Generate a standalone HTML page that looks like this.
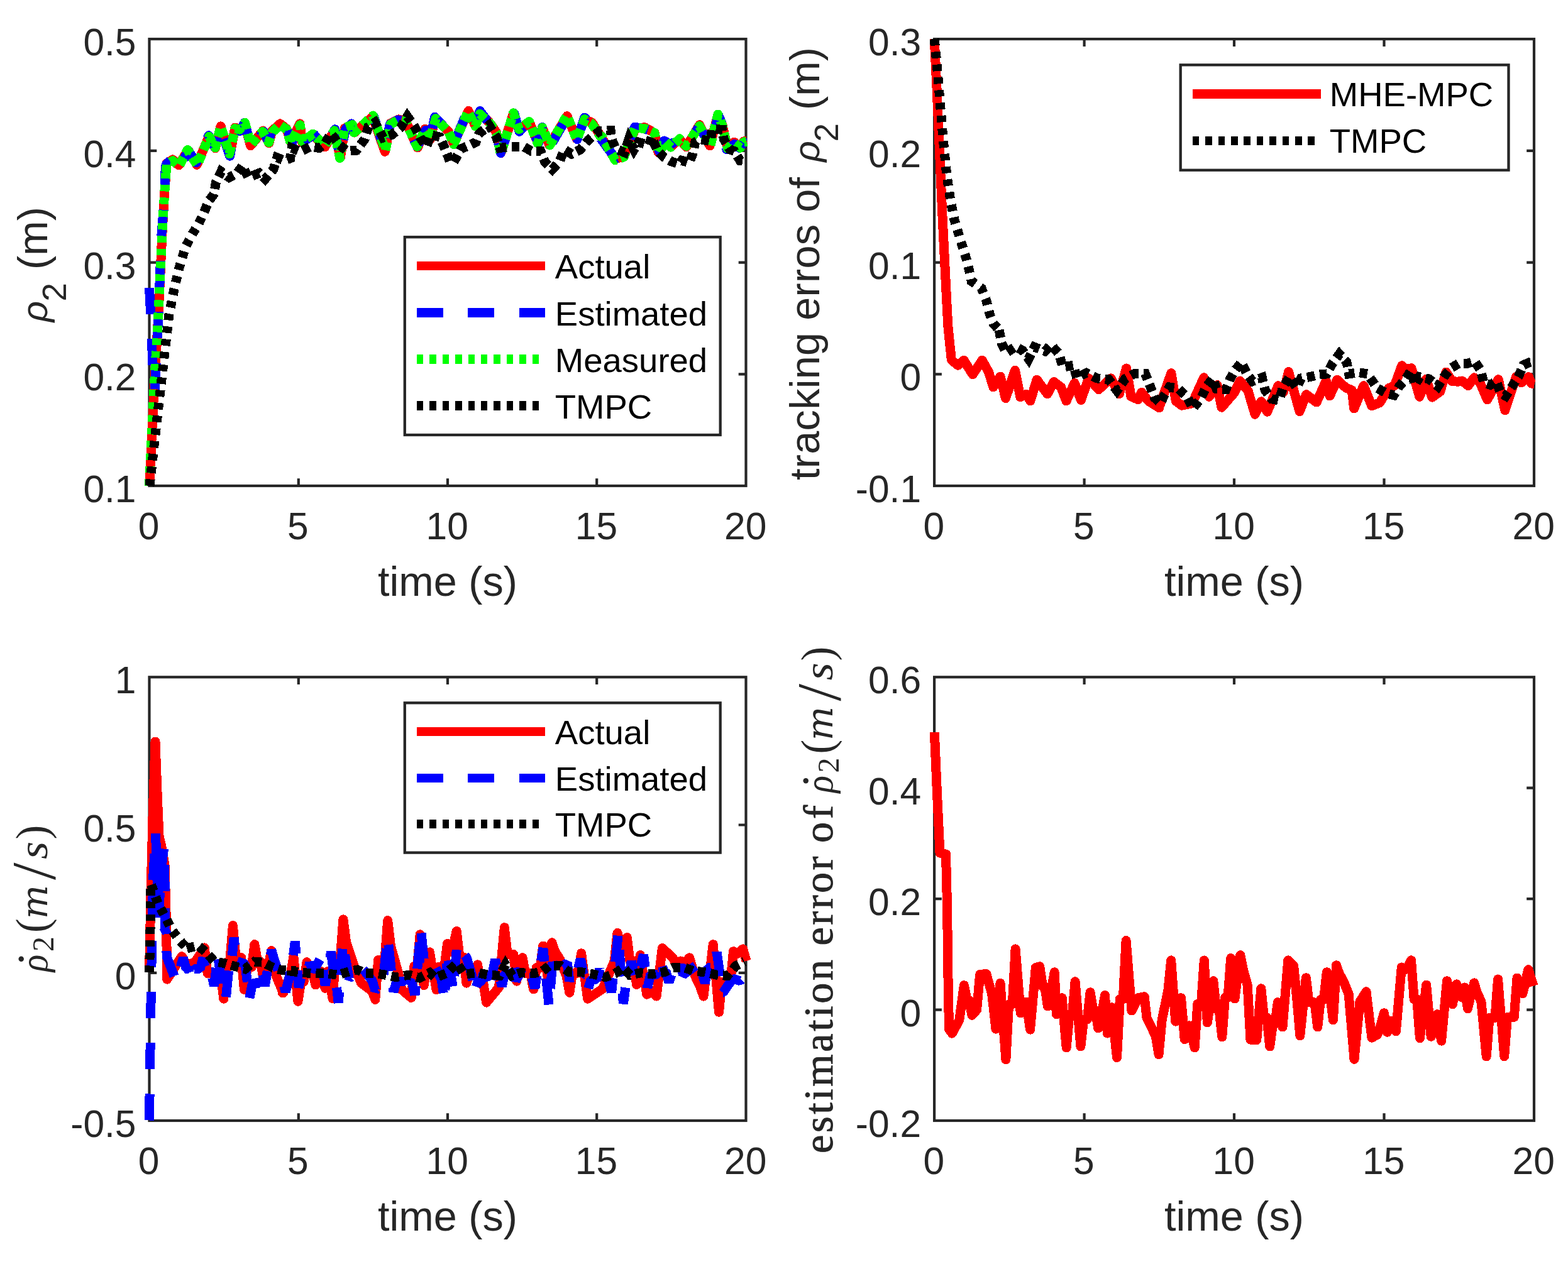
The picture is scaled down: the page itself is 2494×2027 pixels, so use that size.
<!DOCTYPE html>
<html lang="en"><head><meta charset="utf-8"><title>MHE-MPC vs TMPC: rho2 tracking and estimation</title>
<style>html,body{margin:0;padding:0;background:#fff}body{width:2494px;height:2027px;overflow:hidden}svg{display:block}</style>
</head><body>
<svg width="2494" height="2027" viewBox="0 0 2494 2027">
<rect width="2494" height="2027" fill="#fff"/>
<g stroke="#262626" stroke-width="4.2" fill="none" stroke-linecap="butt">
<path d="M474.8 773.0v-11.8M474.8 62.1v11.8M712.0 773.0v-11.8M712.0 62.1v11.8M949.2 773.0v-11.8M949.2 62.1v11.8M237.5 595.3h11.8M1186.5 595.3h-11.8M237.5 417.6h11.8M1186.5 417.6h-11.8M237.5 239.8h11.8M1186.5 239.8h-11.8"/>
<rect x="237.5" y="62.1" width="949.0" height="710.9"/>
</g>
<g font-family='"Liberation Sans", Arial, Helvetica, sans-serif' font-size="60.5" fill="#262626">
<text x="236.7" y="858.0" text-anchor="middle">0</text>
<text x="473.9" y="858.0" text-anchor="middle">5</text>
<text x="711.2" y="858.0" text-anchor="middle">10</text>
<text x="948.5" y="858.0" text-anchor="middle">15</text>
<text x="1185.7" y="858.0" text-anchor="middle">20</text>
<text x="216.5" y="799.0" text-anchor="end">0.1</text>
<text x="216.5" y="621.3" text-anchor="end">0.2</text>
<text x="216.5" y="443.6" text-anchor="end">0.3</text>
<text x="216.5" y="265.8" text-anchor="end">0.4</text>
<text x="216.5" y="88.1" text-anchor="end">0.5</text>
<text x="712.0" y="947.5" text-anchor="middle" font-size="66.6">time (s)</text>
</g>
<path d="M237.5,773.0 245.0,620.0 252.4,491.6 258.0,370.0 261.5,310.0 264.0,275.0 265.1,260.1 274.5,253.9 284.4,262.8 299.1,238.7 313.1,262.2 331.8,218.8 342.4,235.9 351.1,200.9 365.8,245.8 374.0,203.0 381.0,207.5 389.2,196.8 398.5,231.8 418.4,208.0 427.8,227.7 432.5,208.6 445.4,196.8 455.9,205.1 462.9,226.2 477.0,196.9 480.5,226.2 498.1,214.5 516.8,233.8 532.0,207.5 541.4,250.8 548.4,203.9 560.1,198.7 563.6,211.0 592.9,185.8 612.2,241.2 621.0,196.3 633.9,189.9 645.6,193.4 664.3,235.0 676.0,205.1 684.2,222.1 692.4,187.0 713.4,209.8 721.7,228.5 745.1,176.4 755.6,199.3 763.8,179.6 780.2,196.9 789.6,211.0 796.6,243.7 816.5,180.5 825.9,206.9 842.3,194.8 855.1,226.2 863.3,204.8 873.9,230.9 901.9,184.6 917.2,220.9 930.0,189.9 941.7,195.2 955.8,216.8 957.0,219.2 978.1,253.1 992.1,248.4 1010.9,203.9 1025.5,202.8 1041.3,211.5 1047.1,242.6 1057.7,225.6 1067.0,233.2 1081.1,221.5 1091.6,233.8 1112.7,198.7 1129.1,232.0 1141.9,182.6 1149.0,199.3 1157.2,235.0 1167.7,226.2 1177.1,234.4 1182.9,225.0 1187.6,224.4" fill="none" stroke="#f00" stroke-width="15" stroke-linejoin="round" stroke-linecap="butt" shape-rendering="crispEdges"/>
<path d="M237.5,458.0 240.5,516.0 243.0,585.0 246.2,619.8 252.4,492.2 257.1,370.1 261.9,312.1 262.9,273.6 264.0,262.3 275.0,250.7 285.8,266.1 299.5,239.5 312.1,258.8 331.9,215.7 341.5,234.1 349.8,200.6 365.6,248.2 374.0,204.0 381.0,208.6 389.1,195.2 399.9,235.3 419.4,209.5 427.3,225.8 431.9,205.6 446.1,196.1 456.9,204.3 464.2,228.6 475.6,194.9 481.7,226.0 499.4,213.8 515.6,234.7 532.8,205.8 540.2,249.6 549.7,205.7 559.1,196.9 562.5,207.9 593.7,183.5 612.4,240.8 620.1,198.0 632.8,190.9 644.5,192.9 663.5,233.3 677.3,207.2 683.6,224.8 691.6,186.2 714.4,210.8 720.6,231.9 744.3,174.7 756.4,198.1 763.3,176.6 779.1,197.5 788.9,211.7 796.3,243.4 817.8,180.4 826.1,209.4 841.4,192.4 856.3,228.4 862.6,202.6 874.5,233.9 901.1,187.8 918.2,221.6 929.8,187.1 940.4,198.4 955.1,218.2 956.3,221.4 978.4,251.7 991.2,250.0 1009.7,202.0 1025.7,205.2 1041.6,210.0 1048.3,240.5 1056.3,224.0 1066.9,230.1 1080.2,220.6 1091.8,231.2 1112.3,201.4 1130.4,233.1 1142.5,183.2 1148.0,196.0 1155.8,237.8 1168.3,229.4 1175.7,235.3 1182.9,226.6 1187.1,227.9" fill="none" stroke="#00f" stroke-width="15" stroke-linejoin="round" stroke-linecap="butt" shape-rendering="crispEdges" stroke-dasharray="42 39.3"/>
<path d="M237.5,773.0 245.0,620.0 252.4,491.6 258.0,370.0 261.5,310.0 264.0,275.0" fill="none" stroke="#0f0" stroke-width="15" stroke-linejoin="round" stroke-linecap="butt" shape-rendering="crispEdges" stroke-dasharray="10.5 9.9"/>
<path d="M264.0,275.0 265.3,261.1 274.9,255.7 284.8,264.5 298.3,238.6 313.8,262.8 332.5,217.3 342.3,234.9 351.2,201.2 365.0,244.7 373.6,204.7 381.4,206.1 389.7,195.4 398.7,230.3 417.6,209.5 427.3,226.6 433.3,210.1 445.0,198.6 456.0,205.8 462.4,227.9 477.3,198.8 481.2,225.4 497.9,213.1 516.2,232.0 531.7,207.9 540.6,251.5 548.2,203.2 560.6,198.6 563.3,210.9 593.2,184.0 613.0,239.3 621.4,197.7 633.1,191.0 645.3,193.7 663.5,233.1 675.5,206.9 683.7,223.1 693.1,188.7 713.2,209.2 721.7,229.6 744.5,177.4 756.1,200.7 763.1,181.4 779.6,196.3 789.8,212.6 796.4,245.4 816.6,179.8 825.6,205.6 841.6,193.4 855.4,228.2 862.8,203.0 874.6,231.0 901.8,183.6 917.3,222.2 930.0,189.6 941.0,196.8 955.0,216.8 957.6,217.7 978.5,254.9 992.3,249.6 1010.2,203.7 1024.9,204.2 1041.0,211.4 1047.9,244.0 1058.4,225.4 1067.0,234.1 1081.1,220.7 1091.5,232.4 1112.5,200.6 1129.8,232.5 1141.9,182.0 1148.3,198.3 1157.6,236.4 1167.5,227.3 1177.5,235.2 1183.2,226.0 1187.4,225.2" fill="none" stroke="#0f0" stroke-width="15" stroke-linejoin="round" stroke-linecap="butt" shape-rendering="crispEdges" stroke-dasharray="13 7.4"/>
<path d="M238.0,773.0 246.0,700.0 254.0,630.0 262.0,560.0 269.0,500.0 277.0,460.0 285.0,426.0 295.0,393.0 306.0,372.0 315.0,358.0 324.8,337.4" fill="none" stroke="#000" stroke-width="15" stroke-linejoin="miter" stroke-linecap="butt" shape-rendering="crispEdges" stroke-dasharray="10.5 9.9"/>
<path d="M324.8,337.4 331.8,319.8 340.0,309.3 343.5,290.0 351.7,273.0 364.6,282.4 377.5,275.3 385.7,263.6 395.0,282.4 412.6,275.3 421.9,284.7 434.8,269.5 440.7,250.8 452.4,255.4 461.7,251.9 464.1,235.5 475.8,240.2 477.0,241.4 493.4,233.2 507.5,235.5 516.8,228.5 526.2,212.1 540.2,230.9 551.9,240.2 567.1,239.1 580.0,221.5 585.9,201.6 596.4,194.6 603.4,207.5 609.3,219.2 623.3,214.5 637.4,202.8 647.9,185.2 659.6,201.6 669.0,220.3 678.3,233.2 685.4,214.5 699.4,218.0 705.3,230.9 711.1,244.9 715.8,257.8 721.7,257.8 733.4,236.7 747.5,230.9 756.8,226.2 761.5,213.3 777.9,199.3 789.6,218.0 795.4,235.5 810.7,233.2 821.2,233.2 832.9,233.2 844.6,240.2 859.8,240.2 866.8,257.8 878.5,269.5 890.2,256.6 897.3,237.9 909.0,244.9 923.0,237.9 935.9,222.7 953.4,208.6 955.9,208.6 971.1,207.5 973.4,222.7 979.3,236.7 993.3,242.6 1000.3,221.5 1008.5,237.9 1015.5,226.2 1031.9,230.9 1036.6,218.0 1044.8,237.9 1055.3,249.6 1067.0,256.6 1081.1,261.3 1084.6,255.4 1096.3,259.0 1102.2,243.7 1105.7,226.2 1113.9,221.5 1130.2,225.0 1132.6,205.1 1149.0,206.3 1151.3,221.5 1160.7,237.9 1167.7,240.2 1177.1,255.4 1187.6,256.6" fill="none" stroke="#000" stroke-width="15" stroke-linejoin="miter" stroke-linecap="butt" shape-rendering="crispEdges" stroke-dasharray="12.5 8"/>
<rect x="643.8" y="377.2" width="501.9" height="314.8" fill="#fff" stroke="#262626" stroke-width="4.3"/>
<g font-family='"Liberation Sans", Arial, Helvetica, sans-serif' font-size="54.5" fill="#000">
<path d="M662.9 422.9H867.1" stroke="#f00" stroke-width="14.4" fill="none" shape-rendering="crispEdges"/>
<text x="882.8" y="443.1">Actual</text>
<path d="M662.9 497.3H867.1" stroke="#00f" stroke-width="14.4" fill="none" shape-rendering="crispEdges" stroke-dasharray="42 39.3"/>
<text x="882.8" y="517.8">Estimated</text>
<path d="M662.9 571.4H866.1" stroke="#0f0" stroke-width="14.4" fill="none" shape-rendering="crispEdges" stroke-dasharray="10.5 9.9"/>
<text x="882.8" y="592.2">Measured</text>
<path d="M662.9 645.5H866.1" stroke="#000" stroke-width="14.4" fill="none" shape-rendering="crispEdges" stroke-dasharray="10.5 9.9"/>
<text x="882.8" y="665.6">TMPC</text>
</g>
<g stroke="#262626" stroke-width="4.2" fill="none" stroke-linecap="butt">
<path d="M1724.6 773.0v-11.8M1724.6 62.1v11.8M1963.0 773.0v-11.8M1963.0 62.1v11.8M2201.5 773.0v-11.8M2201.5 62.1v11.8M1486.1 595.3h11.8M2440.0 595.3h-11.8M1486.1 417.6h11.8M2440.0 417.6h-11.8M1486.1 239.8h11.8M2440.0 239.8h-11.8"/>
<rect x="1486.1" y="62.1" width="953.9" height="710.9"/>
</g>
<g font-family='"Liberation Sans", Arial, Helvetica, sans-serif' font-size="60.5" fill="#262626">
<text x="1485.3" y="858.0" text-anchor="middle">0</text>
<text x="1723.8" y="858.0" text-anchor="middle">5</text>
<text x="1962.2" y="858.0" text-anchor="middle">10</text>
<text x="2200.7" y="858.0" text-anchor="middle">15</text>
<text x="2439.2" y="858.0" text-anchor="middle">20</text>
<text x="1465.1" y="799.0" text-anchor="end">-0.1</text>
<text x="1465.1" y="621.3" text-anchor="end">0</text>
<text x="1465.1" y="443.6" text-anchor="end">0.1</text>
<text x="1465.1" y="265.8" text-anchor="end">0.2</text>
<text x="1465.1" y="88.1" text-anchor="end">0.3</text>
<text x="1963.0" y="947.5" text-anchor="middle" font-size="66.6">time (s)</text>
</g>
<path d="M1486.2,62.0 1490.0,140.0 1494.0,230.0 1497.0,300.0 1499.3,350.0 1504.9,462.4 1507.8,518.5 1510.6,546.6 1513.4,572.8 1523.7,581.3 1533.0,573.2 1547.1,595.7 1562.1,573.2 1572.4,591.6 1579.9,615.9 1591.1,599.1 1599.5,633.7 1614.5,589.3 1622.9,631.8 1632.3,627.2 1638.8,638.0 1649.1,604.1 1666.0,626.8 1676.3,607.5 1687.5,615.9 1696.0,638.0 1709.1,609.4 1719.4,636.5 1731.5,601.9 1747.5,619.7 1767.1,601.9 1780.2,626.8 1791.5,586.0 1799.0,630.9 1810.2,635.6 1815.8,624.3 1827.0,638.4 1843.9,648.7 1843.5,648.7 1862.8,593.7 1870.4,638.2 1879.8,645.2 1896.2,641.7 1914.9,600.8 1923.1,631.2 1936.0,612.5 1943.0,648.2 1962.9,625.3 1972.3,606.0 1985.1,621.8 1996.2,659.3 2006.2,638.8 2015.6,655.2 2033.1,613.6 2041.3,624.2 2049.5,591.6 2067.1,654.6 2077.6,627.7 2094.0,640.0 2109.3,606.0 2115.1,630.0 2126.8,604.3 2140.9,617.1 2150.2,620.7 2153.7,649.9 2169.0,613.6 2181.8,645.8 2194.7,640.6 2208.7,617.7 2218.1,613.6 2229.8,581.7 2236.8,587.9 2245.0,585.8 2257.9,631.2 2268.4,603.1 2277.8,632.1 2290.7,623.0 2300.0,592.0 2309.5,606.6 2318.9,607.2 2325.9,606.0 2335.3,613.6 2344.7,600.8 2354.0,609.0 2365.7,635.9 2383.3,603.7 2393.8,652.8 2411.4,599.6 2419.6,609.0 2431.3,599.6 2435.9,610.1 2440.6,610.4" fill="none" stroke="#f00" stroke-width="15" stroke-linejoin="round" stroke-linecap="butt" shape-rendering="crispEdges"/>
<path d="M1486.2,62.0 1490.0,100.0 1495.0,160.0 1500.0,220.0 1506.0,280.0 1512.0,320.0 1518.0,350.0 1523.7,368.7 1529.7,388.4 1535.8,407.7 1540.9,427.2 1545.2,447.4 1561.1,458.6 1569.0,478.8 1574.2,499.8 1579.9,514.8 1589.2,525.1" fill="none" stroke="#000" stroke-width="15" stroke-linejoin="miter" stroke-linecap="butt" shape-rendering="crispEdges" stroke-dasharray="10.5 9.9"/>
<path d="M1589.2,525.1 1593.0,545.7 1600.4,561.6 1615.4,551.3 1626.7,557.9 1636.0,571.0 1645.4,552.2 1662.2,558.8 1671.6,548.5 1684.7,563.5 1690.3,584.1 1707.2,581.3 1712.8,600.9 1727.8,593.4 1744.6,601.9 1763.4,603.7 1776.5,621.5 1789.6,602.8 1804.6,594.4 1821.4,594.4 1828.9,613.1 1836.4,632.8 1845.8,642.1 1851.7,628.8 1859.9,616.0 1873.9,618.3 1888.0,631.2 1897.4,649.9 1910.2,633.5 1918.4,616.0 1929.0,601.9 1934.8,618.3 1950.0,619.5 1955.9,604.3 1962.9,591.4 1974.6,576.2 1984.0,596.1 1992.2,606.6 2007.4,600.8 2012.1,620.7 2022.6,634.7 2034.3,637.0 2040.1,618.3 2050.7,599.6 2062.4,617.1 2069.4,601.9 2083.4,599.6 2097.6,596.1 2110.4,594.9 2119.8,577.4 2130.3,563.3 2142.0,576.2 2145.5,594.9 2160.8,592.6 2174.8,594.9 2183.0,606.6 2190.0,617.1 2204.1,625.3 2216.9,628.8 2226.3,613.6 2235.7,603.1 2243.9,590.2 2250.9,612.5 2257.9,599.6 2273.1,603.1 2287.2,614.8 2296.5,599.6 2308.2,585.5 2319.9,578.5 2320.1,578.5 2333.0,578.5 2345.8,575.0 2355.2,589.1 2359.9,609.0 2370.4,612.5 2379.8,606.6 2386.8,625.3 2395.0,630.0 2404.3,616.0 2414.9,599.6 2423.1,580.9 2433.6,576.2 2441.8,575.0" fill="none" stroke="#000" stroke-width="15" stroke-linejoin="miter" stroke-linecap="butt" shape-rendering="crispEdges" stroke-dasharray="12.5 8"/>
<rect x="1877.7" y="103.3" width="521.8" height="167.4" fill="#fff" stroke="#262626" stroke-width="4.3"/>
<g font-family='"Liberation Sans", Arial, Helvetica, sans-serif' font-size="54.5" fill="#000">
<path d="M1896.8 149.5H2101.2" stroke="#f00" stroke-width="14.4" fill="none" shape-rendering="crispEdges"/>
<text x="2114.8" y="168.9">MHE-MPC</text>
<path d="M1896.8 224.2H2100.2" stroke="#000" stroke-width="14.4" fill="none" shape-rendering="crispEdges" stroke-dasharray="10.5 9.9"/>
<text x="2114.8" y="243.1">TMPC</text>
</g>
<g stroke="#262626" stroke-width="4.2" fill="none" stroke-linecap="butt">
<path d="M474.8 1783.0v-11.8M474.8 1077.3v11.8M712.0 1783.0v-11.8M712.0 1077.3v11.8M949.2 1783.0v-11.8M949.2 1077.3v11.8M237.5 1547.8h11.8M1186.5 1547.8h-11.8M237.5 1312.5h11.8M1186.5 1312.5h-11.8"/>
<rect x="237.5" y="1077.3" width="949.0" height="705.7"/>
</g>
<g font-family='"Liberation Sans", Arial, Helvetica, sans-serif' font-size="60.5" fill="#262626">
<text x="236.7" y="1868.0" text-anchor="middle">0</text>
<text x="473.9" y="1868.0" text-anchor="middle">5</text>
<text x="711.2" y="1868.0" text-anchor="middle">10</text>
<text x="948.5" y="1868.0" text-anchor="middle">15</text>
<text x="1185.7" y="1868.0" text-anchor="middle">20</text>
<text x="216.5" y="1809.0" text-anchor="end">-0.5</text>
<text x="216.5" y="1573.8" text-anchor="end">0</text>
<text x="216.5" y="1338.5" text-anchor="end">0.5</text>
<text x="216.5" y="1103.3" text-anchor="end">1</text>
<text x="712.0" y="1957.5" text-anchor="middle" font-size="66.6">time (s)</text>
</g>
<path d="M237.5,1545.0 240.0,1420.0 243.0,1300.0 247.0,1180.0 250.0,1260.0 253.0,1330.0 258.0,1352.0 262.0,1376.0 264.0,1450.0 265.1,1510.2 265.6,1558.2 289.1,1521.6 296.1,1533.6 309.0,1532.5 325.3,1507.9 330.1,1548.6 351.0,1548.6 355.8,1589.2 360.5,1530.9 365.6,1530.9 370.4,1472.5 375.1,1523.6 383.8,1523.6 388.5,1574.6 393.3,1538.6 400.2,1538.6 404.9,1502.6 409.7,1529.8 414.2,1529.8 419.0,1557.0 423.7,1534.8 427.1,1534.8 431.8,1512.6 436.6,1546.2 450.6,1579.9 449.4,1579.9 462.2,1550.9 466.9,1521.9 473.9,1593.3 478.7,1562.0 483.2,1562.0 488.0,1530.7 492.7,1548.8 497.3,1548.8 502.0,1567.0 510.2,1545.3 517.2,1572.3 521.9,1545.3 529.0,1588.6 533.7,1525.7 541.2,1525.7 545.9,1462.8 550.7,1499.4 562.9,1536.0 574.6,1564.1 592.1,1577.2 596.8,1590.4 601.6,1527.5 612.0,1527.5 616.7,1464.6 621.5,1505.5 633.1,1546.5 639.0,1574.6 654.2,1587.5 658.9,1537.1 663.5,1537.1 668.2,1486.8 674.1,1567.6 683.4,1514.9 688.2,1544.8 689.3,1544.8 694.0,1574.6 698.8,1538.0 706.9,1538.0 711.6,1501.4 718.6,1514.9 726.2,1481.5 731.0,1522.8 737.3,1522.8 742.0,1564.1 746.8,1549.4 754.8,1549.4 759.6,1534.8 764.3,1564.9 768.9,1564.9 773.6,1595.1 793.5,1571.1 802.3,1475.7 807.1,1518.4 816.9,1518.4 821.6,1561.1 831.0,1523.7 835.7,1548.8 843.8,1548.8 848.5,1574.0 853.3,1539.5 859.0,1539.5 863.8,1505.0 873.1,1567.0 877.8,1499.7 882.5,1513.2 890.7,1526.6 901.1,1552.9 905.9,1579.3 910.6,1548.0 919.9,1548.0 924.6,1516.7 929.4,1552.9 929.9,1552.9 934.6,1589.2 958.6,1573.4 977.3,1529.0 982.0,1484.5 989.6,1510.2 997.2,1491.5 1002.0,1529.0 1007.7,1529.0 1012.5,1566.4 1018.3,1519.6 1023.1,1550.9 1024.1,1550.9 1028.8,1582.2 1037.0,1578.1 1044.1,1585.1 1053.4,1508.5 1069.8,1523.7 1075.7,1533.6 1082.7,1529.0 1089.7,1531.3 1096.7,1523.7 1101.5,1540.4 1107.3,1557.0 1114.2,1571.1 1119.0,1585.1 1123.7,1543.9 1129.4,1543.9 1134.2,1502.6 1143.5,1610.3 1148.3,1562.0 1161.8,1562.0 1166.5,1513.7 1173.5,1517.2 1181.7,1509.9 1187.0,1529.0" fill="none" stroke="#f00" stroke-width="15" stroke-linejoin="round" stroke-linecap="butt" shape-rendering="crispEdges"/>
<path d="M237.5,1782.5 240.5,1560.0 243.5,1400.0" fill="none" stroke="#00f" stroke-width="15" stroke-linejoin="bevel" stroke-linecap="butt" shape-rendering="crispEdges" stroke-dasharray="42 39.3"/>
<path d="M243.5,1400.0 247.5,1326.0 252.0,1460.0 257.0,1380.0 260.5,1350.0 262.5,1420.0 262.0,1480.0 264.5,1482.1 265.1,1521.9 278.5,1557.0 283.3,1540.7 286.6,1540.7 291.4,1524.3 296.1,1541.2 299.5,1541.2 304.3,1558.2 309.0,1541.2 318.2,1541.2 323.0,1524.3 327.7,1546.5 335.8,1546.5 340.6,1568.7 346.4,1519.6 351.2,1554.1 354.5,1554.1 359.3,1588.6 364.0,1540.1 367.4,1540.1 372.2,1491.5 375.7,1529.0 389.7,1533.6 396.7,1588.6 401.5,1564.6 411.9,1564.6 416.6,1540.7 421.3,1568.7 426.1,1540.1 427.1,1540.1 431.8,1511.4 436.6,1528.4 442.4,1545.3 449.3,1561.7 454.1,1578.1 455.2,1574.6 464.5,1536.3 469.3,1497.9 475.1,1571.1 479.9,1551.5 487.9,1551.5 492.7,1531.9 498.5,1545.3 511.4,1521.9 517.2,1567.6 526.6,1514.3 531.4,1555.0 533.6,1555.0 538.3,1595.7 545.3,1500.9 555.3,1557.0 574.6,1539.5 580.4,1545.3 592.1,1560.6 596.8,1575.8 608.5,1564.1 616.7,1492.7 626.1,1578.1 630.8,1561.1 643.6,1561.1 648.3,1544.2 653.1,1563.5 655.3,1563.5 660.0,1582.8 669.4,1478.6 674.1,1525.4 687.0,1526.6 702.2,1558.8 706.9,1591.0 711.6,1517.2 721.0,1574.6 726.8,1504.4 742.0,1523.1 750.2,1550.6 754.9,1578.1 759.7,1563.2 764.2,1563.2 769.0,1548.3 778.3,1573.4 787.7,1526.6 792.4,1548.0 793.5,1548.0 798.2,1569.3 803.0,1549.1 811.0,1549.1 815.8,1529.0 820.4,1560.6 832.2,1538.3 836.9,1555.3 846.1,1555.3 850.9,1572.3 855.6,1540.4 859.0,1540.4 863.8,1508.5 873.1,1599.2 879.0,1531.3 884.8,1545.3 902.4,1531.9 905.9,1561.1 910.6,1543.6 918.7,1543.6 923.4,1526.0 928.2,1550.3 930.5,1550.3 935.2,1574.6 940.0,1558.2 949.2,1558.2 953.9,1541.8 958.7,1560.3 967.9,1560.3 972.7,1578.7 977.4,1532.8 978.5,1532.8 983.2,1486.8 991.4,1596.8 996.1,1562.9 999.5,1562.9 1004.3,1529.0 1010.1,1557.0 1014.9,1538.0 1018.8,1538.0 1023.6,1519.0 1030.0,1571.1 1034.8,1550.0 1046.3,1550.0 1051.1,1529.0 1055.8,1545.9 1059.2,1545.9 1064.0,1562.9 1068.7,1548.8 1079.1,1548.8 1083.9,1534.8 1086.2,1551.2 1111.9,1532.5 1121.3,1564.1 1126.1,1539.5 1135.3,1539.5 1140.0,1514.9 1149.4,1579.3 1150.1,1579.3 1165.3,1557.0 1177.0,1560.6 1187.0,1550.6" fill="none" stroke="#00f" stroke-width="15" stroke-linejoin="bevel" stroke-linecap="butt" shape-rendering="crispEdges" stroke-dasharray="42 27"/>
<path d="M237.5,1547.0 239.0,1480.0 240.0,1406.0 245.0,1420.0 252.0,1440.0 255.1,1444.7 264.5,1461.7 273.3,1479.8 285.5,1495.6 297.2,1509.1" fill="none" stroke="#000" stroke-width="15" stroke-linejoin="miter" stroke-linecap="butt" shape-rendering="crispEdges" stroke-dasharray="10.5 9.9"/>
<path d="M297.2,1509.1 314.8,1504.4 328.8,1516.1 340.6,1529.5 355.8,1532.5 372.2,1537.1 389.7,1541.8 404.9,1530.1 419.0,1531.3 434.2,1539.5 445.9,1543.0 463.4,1544.2 463.4,1545.3 482.1,1547.7 503.2,1548.8 519.6,1548.8 537.1,1551.2 557.0,1545.3 568.7,1543.0 580.4,1548.8 598.0,1548.8 613.2,1551.2 629.6,1554.7 650.7,1551.2 667.1,1555.9 683.4,1547.7 691.7,1555.9 709.3,1548.8 726.8,1532.5 738.5,1550.0 759.6,1547.7 777.1,1551.2 794.7,1552.4 804.1,1534.8 814.6,1552.4 828.6,1547.7 848.5,1548.8 862.6,1545.3 874.3,1536.0 890.7,1536.0 904.7,1546.5 923.4,1546.5 943.4,1550.0 963.3,1554.7 978.5,1548.8 991.4,1539.5 1001.9,1551.2 1019.5,1547.7 1037.0,1550.0 1056.9,1546.5 1071.0,1539.5 1088.5,1539.5 1103.8,1545.3 1120.1,1546.5 1140.0,1551.2 1140.8,1551.2 1157.1,1552.4 1170.0,1537.1 1184.1,1530.1" fill="none" stroke="#000" stroke-width="15" stroke-linejoin="miter" stroke-linecap="butt" shape-rendering="crispEdges" stroke-dasharray="12.5 8"/>
<rect x="643.8" y="1118.3" width="501.9" height="238.3" fill="#fff" stroke="#262626" stroke-width="4.3"/>
<g font-family='"Liberation Sans", Arial, Helvetica, sans-serif' font-size="54.5" fill="#000">
<path d="M662.9 1164.2H867.1" stroke="#f00" stroke-width="14.4" fill="none" shape-rendering="crispEdges"/>
<text x="882.8" y="1184.2">Actual</text>
<path d="M662.9 1237.8H867.1" stroke="#00f" stroke-width="14.4" fill="none" shape-rendering="crispEdges" stroke-dasharray="42 39.3"/>
<text x="882.8" y="1258.3">Estimated</text>
<path d="M662.9 1311.2H866.1" stroke="#000" stroke-width="14.4" fill="none" shape-rendering="crispEdges" stroke-dasharray="10.5 9.9"/>
<text x="882.8" y="1331">TMPC</text>
</g>
<g stroke="#262626" stroke-width="4.2" fill="none" stroke-linecap="butt">
<path d="M1724.6 1783.0v-11.8M1724.6 1077.3v11.8M1963.0 1783.0v-11.8M1963.0 1077.3v11.8M2201.5 1783.0v-11.8M2201.5 1077.3v11.8M1486.1 1606.6h11.8M2440.0 1606.6h-11.8M1486.1 1430.2h11.8M2440.0 1430.2h-11.8M1486.1 1253.7h11.8M2440.0 1253.7h-11.8"/>
<rect x="1486.1" y="1077.3" width="953.9" height="705.7"/>
</g>
<g font-family='"Liberation Sans", Arial, Helvetica, sans-serif' font-size="60.5" fill="#262626">
<text x="1485.3" y="1868.0" text-anchor="middle">0</text>
<text x="1723.8" y="1868.0" text-anchor="middle">5</text>
<text x="1962.2" y="1868.0" text-anchor="middle">10</text>
<text x="2200.7" y="1868.0" text-anchor="middle">15</text>
<text x="2439.2" y="1868.0" text-anchor="middle">20</text>
<text x="1465.1" y="1809.0" text-anchor="end">-0.2</text>
<text x="1465.1" y="1632.6" text-anchor="end">0</text>
<text x="1465.1" y="1456.2" text-anchor="end">0.2</text>
<text x="1465.1" y="1279.7" text-anchor="end">0.4</text>
<text x="1465.1" y="1103.3" text-anchor="end">0.6</text>
<text x="1963.0" y="1957.5" text-anchor="middle" font-size="66.6">time (s)</text>
</g>
<path d="M1486.3,1165.0 1490.5,1262.0 1495.0,1357.0 1504.5,1359.0 1506.5,1440.0 1508.0,1556.0 1509.5,1637.1 1514.3,1644.1 1525.8,1623.2 1533.4,1567.7 1538.1,1591.5 1541.3,1591.5 1546.0,1615.3 1553.6,1606.7 1558.7,1550.3 1568.8,1549.7 1577.7,1581.4 1584.0,1637.1 1591.0,1564.3 1599.9,1685.9 1604.6,1597.8 1610.3,1597.8 1615.1,1509.8 1623.3,1611.8 1632.2,1594.0 1638.5,1638.1 1647.4,1539.6 1653.7,1537.7 1658.5,1569.3 1661.7,1569.3 1666.4,1601.0 1671.2,1573.9 1672.4,1573.9 1677.2,1546.8 1680.3,1613.7 1689.2,1587.7 1696.2,1666.9 1700.9,1614.3 1705.4,1614.3 1710.1,1561.7 1718.9,1665.0 1723.6,1621.9 1729.3,1621.9 1734.1,1578.8 1738.8,1607.3 1742.0,1607.3 1746.7,1635.9 1751.5,1609.8 1752.8,1609.8 1757.5,1583.6 1761.3,1644.1 1768.3,1602.9 1776.5,1682.7 1781.3,1589.6 1786.3,1589.6 1791.1,1496.5 1800.0,1608.0 1810.1,1587.7 1820.2,1585.8 1824.0,1619.4 1838.3,1648.5 1843.0,1677.7 1848.1,1623.2 1857.9,1575.5 1862.7,1527.9 1869.7,1625.1 1878.5,1587.7 1884.2,1653.6 1891.8,1631.8 1900.1,1666.9 1904.8,1597.4 1910.5,1597.4 1915.3,1527.9 1920.3,1627.0 1929.8,1560.7 1934.6,1605.4 1939.0,1605.4 1943.8,1650.0 1948.5,1587.3 1953.0,1587.3 1957.7,1524.6 1963.9,1589.0 1972.8,1519.7 1977.6,1543.5 1984.2,1567.4 1989.0,1654.2 1998.8,1654.6 2005.8,1572.8 2010.5,1618.9 2014.9,1618.9 2019.7,1665.0 2024.4,1629.8 2027.6,1629.8 2032.4,1594.7 2040.0,1634.0 2048.8,1527.9 2057.7,1537.0 2063.1,1592.5 2067.8,1647.9 2077.3,1555.8 2082.1,1594.9 2091.0,1594.9 2095.7,1634.0 2100.5,1590.4 2105.5,1590.4 2110.3,1546.8 2115.0,1584.9 2115.7,1584.9 2120.4,1622.9 2125.5,1535.8 2130.2,1549.1 2137.5,1562.4 2145.1,1581.4 2154.0,1685.3 2162.9,1594.0 2173.0,1577.8 2181.9,1651.1 2190.8,1646.0 2196.7,1628.9 2201.4,1611.8 2206.5,1642.2 2212.8,1624.5 2220.4,1640.9 2229.3,1538.9 2236.9,1542.1 2244.5,1527.9 2249.2,1589.8 2253.7,1589.8 2258.4,1651.7 2263.2,1609.4 2263.8,1609.4 2268.6,1567.2 2276.2,1649.2 2280.9,1631.4 2281.6,1631.4 2286.3,1613.7 2292.6,1656.1 2301.5,1560.7 2310.4,1597.8 2316.7,1565.9 2324.3,1586.4 2329.4,1571.0 2334.5,1604.8 2339.2,1584.3 2339.8,1584.3 2344.6,1563.9 2349.3,1579.0 2356.0,1594.0 2364.2,1680.8 2369.0,1619.4 2377.9,1619.4 2382.6,1557.9 2387.4,1619.4 2388.0,1619.4 2392.7,1680.8 2397.5,1618.4 2408.3,1618.4 2413.0,1556.0 2421.9,1580.7 2430.8,1542.7 2439.0,1568.7" fill="none" stroke="#f00" stroke-width="15" stroke-linejoin="round" stroke-linecap="butt" shape-rendering="crispEdges"/>
<text transform="translate(75.0,512.2) rotate(-90)" font-family='"Liberation Sans", Arial, Helvetica, sans-serif' font-size="58" font-style="italic" fill="#262626">ρ</text>
<text transform="translate(105.0,479.5) rotate(-90)" font-family='"Liberation Sans", Arial, Helvetica, sans-serif' font-size="53" fill="#262626">2</text>
<text transform="translate(75.0,429.0) rotate(-90)" font-family='"Liberation Sans", Arial, Helvetica, sans-serif' font-size="66.6" fill="#262626">(m)</text>
<text transform="translate(1303.0,764.0) rotate(-90)" font-family='"Liberation Sans", Arial, Helvetica, sans-serif' font-size="66.6" textLength="482" lengthAdjust="spacing" fill="#262626">tracking erros of</text>
<text transform="translate(1303.0,257.6) rotate(-90)" font-family='"Liberation Sans", Arial, Helvetica, sans-serif' font-size="58" font-style="italic" fill="#262626">ρ</text>
<text transform="translate(1333.0,225.5) rotate(-90)" font-family='"Liberation Sans", Arial, Helvetica, sans-serif' font-size="53" fill="#262626">2</text>
<text transform="translate(1303.0,175.0) rotate(-90)" font-family='"Liberation Sans", Arial, Helvetica, sans-serif' font-size="66.6" fill="#262626">(m)</text>
<text transform="translate(75.0,1546.2) rotate(-90) scale(0.92,1)" font-family='"Liberation Serif", "DejaVu Serif", serif' font-size="62" font-style="italic" fill="#262626">ρ</text>
<text transform="translate(82.6,1539.2) rotate(-90)" font-family='"Liberation Serif", "DejaVu Serif", serif' font-size="80" fill="#262626">˙</text>
<text transform="translate(85.0,1514.0) rotate(-90)" font-family='"Liberation Serif", "DejaVu Serif", serif' font-size="48" fill="#262626">2</text>
<text transform="translate(75.0,1484.0) rotate(-90) scale(1,1.05)" font-family='"Liberation Serif", "DejaVu Serif", serif' font-size="68" fill="#262626">(</text>
<text transform="translate(75.0,1462.0) rotate(-90)" font-family='"DejaVu Serif", "Liberation Serif", serif' font-size="57" font-style="italic" fill="#262626">m</text>
<text transform="translate(87.0,1400.0) rotate(-90) scale(1.5,1.5)" font-family='"Liberation Serif", "DejaVu Serif", serif' font-size="66" fill="#262626">/</text>
<text transform="translate(75.0,1367.0) rotate(-90) scale(1.1,1)" font-family='"Liberation Serif", "DejaVu Serif", serif' font-size="66" font-style="italic" fill="#262626">s</text>
<text transform="translate(75.0,1335.5) rotate(-90) scale(1,1.05)" font-family='"Liberation Serif", "DejaVu Serif", serif' font-size="68" fill="#262626">)</text>
<text transform="translate(1323.7,1835.0) rotate(-90)" font-family='"Liberation Serif", "DejaVu Serif", serif' font-size="66" textLength="308" lengthAdjust="spacing" fill="#262626" stroke="#262626" stroke-width="0.9">estimation</text>
<text transform="translate(1323.7,1504.5) rotate(-90)" font-family='"Liberation Serif", "DejaVu Serif", serif' font-size="66" textLength="142" lengthAdjust="spacing" fill="#262626" stroke="#262626" stroke-width="0.9">error</text>
<text transform="translate(1323.7,1341.0) rotate(-90)" font-family='"Liberation Serif", "DejaVu Serif", serif' font-size="66" textLength="60" lengthAdjust="spacing" fill="#262626" stroke="#262626" stroke-width="0.9">of</text>
<text transform="translate(1323.7,1261.5) rotate(-90) scale(0.92,1)" font-family='"Liberation Serif", "DejaVu Serif", serif' font-size="62" font-style="italic" fill="#262626">ρ</text>
<text transform="translate(1330.7,1255.7) rotate(-90)" font-family='"Liberation Serif", "DejaVu Serif", serif' font-size="80" fill="#262626">˙</text>
<text transform="translate(1333.7,1229.5) rotate(-90)" font-family='"Liberation Serif", "DejaVu Serif", serif' font-size="48" fill="#262626">2</text>
<text transform="translate(1323.7,1199.5) rotate(-90) scale(1,1.05)" font-family='"Liberation Serif", "DejaVu Serif", serif' font-size="68" fill="#262626">(</text>
<text transform="translate(1323.7,1178.0) rotate(-90)" font-family='"DejaVu Serif", "Liberation Serif", serif' font-size="57" font-style="italic" fill="#262626">m</text>
<text transform="translate(1335.7,1115.5) rotate(-90) scale(1.5,1.5)" font-family='"Liberation Serif", "DejaVu Serif", serif' font-size="66" fill="#262626">/</text>
<text transform="translate(1323.7,1082.5) rotate(-90) scale(1.1,1)" font-family='"Liberation Serif", "DejaVu Serif", serif' font-size="66" font-style="italic" fill="#262626">s</text>
<text transform="translate(1323.7,1051.5) rotate(-90) scale(1,1.05)" font-family='"Liberation Serif", "DejaVu Serif", serif' font-size="68" fill="#262626">)</text>
</svg></body></html>
